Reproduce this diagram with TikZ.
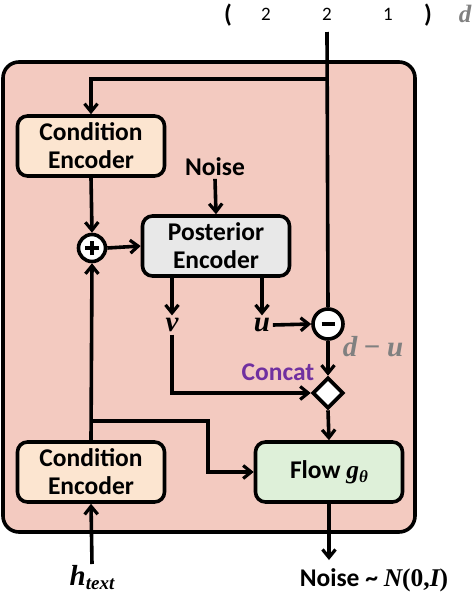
\documentclass[tikz,border=0pt]{standalone}
\usepackage{fontspec}
\setmainfont{Carlito}
\newfontfamily\mfont{Liberation Serif}
\newcommand{\mv}[1]{{\mfont\bfseries\itshape #1}}
\newcommand{\mr}[1]{{\mfont\bfseries #1}}
\usetikzlibrary{shapes.geometric,arrows.meta}
\definecolor{outerfill}{RGB}{243,202,192}
\definecolor{condfill}{RGB}{252,229,208}
\definecolor{postfill}{RGB}{232,232,232}
\definecolor{flowfill}{RGB}{222,240,217}
\definecolor{concatpurple}{RGB}{112,48,160}
\definecolor{dgray}{RGB}{128,128,128}
\begin{document}
\begin{tikzpicture}[x=1pt,y=-1pt,
  line width=3.6pt,
  arr/.style={-{Straight Barb[length=8pt,width=13pt,line width=3.2pt]}},
  blk/.style={draw,rounded corners=10pt,minimum width=147pt,minimum height=60pt,
    align=center,font=\fontsize{25.5}{28}\selectfont\bfseries,inner sep=0pt},
  opcirc/.style={draw,circle,fill=white,inner sep=0pt},
  lbl/.style={font=\fontsize{25.5}{28}\selectfont\bfseries,inner sep=1pt},
  mlbl/.style={font=\fontsize{29}{30}\selectfont,inner sep=1pt},
  dig/.style={font=\fontsize{19}{20}\selectfont,inner sep=0pt},
  brk/.style={font=\fontsize{25}{25}\selectfont\bfseries,inner sep=0pt}
]
\useasboundingbox (0,0) rectangle (474,595);
% outer box
\draw[fill=outerfill,rounded corners=16pt] (3,62) rectangle (415,532);

% top sequence
\node[brk] (lp) at (228,15) {(};
\node[dig] (n1) at (266,14) {2};
\node[dig] (n2) at (327,14) {2};
\node[dig] (n3) at (388,14) {1};
\node[brk] (rp) at (428,15) {)};
\node[font=\fontsize{25}{25}\selectfont,inner sep=0pt,text=dgray] (dlab) at (465,14) {\mv{d}};
\coordinate (top) at (327,32);
\coordinate (jn) at (327,79);

% blocks
\node[blk,fill=condfill] (ce1) at (91,146) {Condition\\Encoder};
\node[blk,fill=postfill] (pe) at (216,246) {Posterior\\Encoder};
\node[blk,fill=condfill] (ce2) at (91,472) {Condition\\Encoder};
\node[blk,fill=flowfill] (flow) at (329,472) {Flow \mv{g}{\fontsize{17}{17}\selectfont\raisebox{-4pt}{\mv{θ}}}};

% operators
\node[opcirc,minimum size=27pt] (plus) at (92,248) {};
\draw[line width=3.2pt] ([xshift=-7pt]plus.center) -- ([xshift=7pt]plus.center)
  ([yshift=-7pt]plus.center) -- ([yshift=7pt]plus.center);
\node[opcirc,minimum size=30pt] (minus) at (328,324) {};
\draw[line width=3.8pt] ([xshift=-6.5pt]minus.center) -- ([xshift=6.5pt]minus.center);
\node[draw,diamond,fill=white,minimum size=31pt,inner sep=0pt] (cat) at (328,393) {};

% labels
\node[lbl] (noise) at (215,167) {Noise};
\node[mlbl] (v) at (172,325) {\mv{v}};
\node[mlbl] (u) at (262,325) {\mv{u}};
\node[mlbl,text=dgray] (dmu) at (373,347) {\mv{d} \mr{−} \mv{u}};
\node[lbl,text=concatpurple] (concat) at (278,372) {Concat};
\node[mlbl] (htext) at (92,578) {\mv{h}{\fontsize{19}{19}\selectfont\raisebox{-4pt}{\mv{text}}}};
\node[lbl] (nout) at (374,580) {Noise \textasciitilde{} \mv{N}\mr{(0,}\mv{I}\mr{)}};

\coordinate (hin) at (92,564);
\coordinate (nend) at (329,560);
\coordinate (br) at (92,421);
\coordinate (brc) at (208,421);

% connectors
\draw (top) -- (minus.north);
\draw[arr] (jn) -| (ce1.north);
\draw[arr] (ce1.south) -- (plus.north);
\draw[arr] (noise.south) -- (pe.north);
\draw[arr] (plus.east) -- (pe.west);
\draw[arr] (pe.south -| v) -- (v.north);
\draw[arr] (pe.south -| u) -- (u.north);
\draw[arr] (u.east) -- (minus.west);
\draw[arr] (minus.south) -- (cat.north);
\draw[arr] (v.south) |- (cat.west);
\draw[arr] (cat.south) -- (flow.north);
\draw[arr] (ce2.north) -- (plus.south);
\draw[arr] (br) -- (brc) |- (flow.west);
\draw[arr] (hin) -- (ce2.south);
\draw[arr] (flow.south) -- (nend);
\end{tikzpicture}
\end{document}
